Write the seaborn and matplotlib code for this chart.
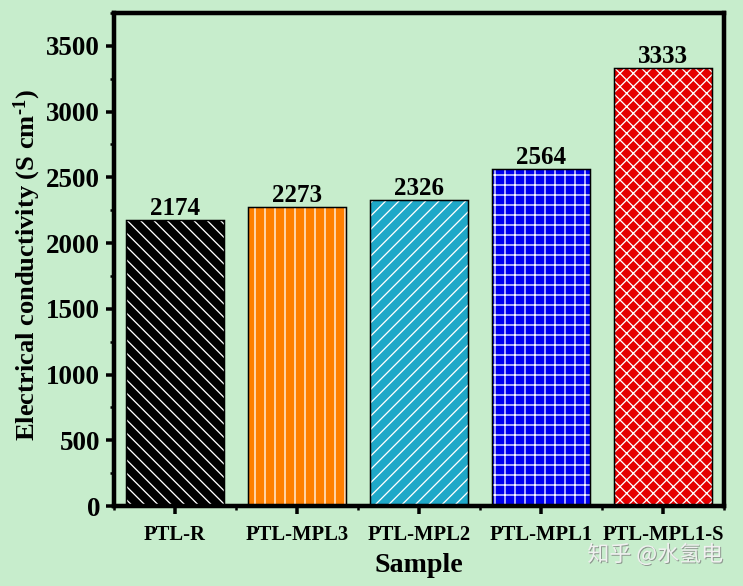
import matplotlib
matplotlib.use('Agg')
import matplotlib.pyplot as plt
import matplotlib.ticker as mticker
import matplotlib.patheffects as pe
import seaborn as sns
import pandas as pd

samples = ['PTL-R', 'PTL-MPL3', 'PTL-MPL2', 'PTL-MPL1', 'PTL-MPL1-S']
conductivity = [2174, 2273, 2326, 2564, 3333]
bar_colors = ['#000000', '#FF8000', '#1FA8C8', '#0000F0', '#E60000']
hatches = ['\\' * 6, '||||', '/' * 6, '++++', 'x' * 6]

BG = '#C7EDCC'
# hatch 간격이 dpi 기준이라 이 값으로 맞춤
DPI = 240
PX = 72 / DPI

sns.set_theme(style='ticks')
plt.rcParams['font.family'] = ['Liberation Serif', 'Noto Sans CJK SC']
plt.rcParams['font.weight'] = 'bold'
plt.rcParams['mathtext.fontset'] = 'custom'
plt.rcParams['mathtext.rm'] = 'Liberation Serif:bold'
plt.rcParams['mathtext.bf'] = 'Liberation Serif:bold'
plt.rcParams['mathtext.default'] = 'bf'
plt.rcParams['hatch.linewidth'] = 1.3 * PX

df = pd.DataFrame({'sample': samples, 'value': conductivity})

fig = plt.figure(figsize=(743 / DPI, 586 / DPI), dpi=DPI, facecolor=BG)
ax = fig.add_axes([114 / 743, 1 - 506 / 586, 610 / 743, 493 / 586], facecolor=BG)

# 채움 + 흰색 hatch
sns.barplot(data=df, x='sample', y='value', hue='sample', palette=bar_colors, saturation=1,
            width=0.81, edgecolor='white', linewidth=0, legend=False, ax=ax)
for bars, h in zip(ax.containers, hatches):
    for bar in bars:
        bar.set_hatch(h)

# 검은 테두리
n_fill = len(ax.containers)
sns.barplot(data=df, x='sample', y='value', hue='sample', fill=False, palette=['black'] * 5,
            saturation=1, width=0.81, linewidth=1.5 * PX, legend=False, ax=ax)
for bars, val in zip(ax.containers[n_fill:], conductivity):
    ax.bar_label(bars, labels=[str(val)], padding=0, fontsize=25 * PX,
                 fontweight='bold', color='black')

ax.set_xlim(-0.5, 4.5)
ax.set_ylim(0, 3750)
ax.yaxis.set_major_locator(mticker.MultipleLocator(500))
ax.yaxis.set_minor_locator(mticker.MultipleLocator(250))
ax.xaxis.set_minor_locator(mticker.FixedLocator([-0.5, 0.5, 1.5, 2.5, 3.5, 4.5]))

for s in ax.spines.values():
    s.set_linewidth(4.5 * PX)
    s.set_visible(True)
    s.set_color('black')
ax.tick_params(axis='both', which='major', direction='out', length=8 * PX, width=3.5 * PX, color='black')
ax.tick_params(axis='both', which='minor', direction='out', length=4 * PX, width=2.5 * PX, color='black')
ax.tick_params(axis='y', which='major', labelsize=27 * PX, pad=6 * PX, labelcolor='black')
ax.tick_params(axis='x', which='major', labelsize=20.7 * PX, pad=11 * PX, labelcolor='black')

ax.set_xlabel('Sample', fontsize=28 * PX, fontweight='bold', color='black', va='center')
ax.xaxis.set_label_coords(0.5, -60 / 493)
ax.set_ylabel('Electrical conductivity (S cm$^{\\text{-1}}$)', fontsize=26.5 * PX, fontweight='bold',
              color='black', va='center')
ax.yaxis.set_label_coords(-87 / 610, (506 - 265) / 493)

# 워터마크
fig.text(723 / 743, 1 - 555 / 586, '知乎 @水氢电', ha='right', va='center', fontsize=22 * PX,
         color='#F0F0F0', family=['Noto Sans CJK SC', 'DejaVu Sans'], fontweight='normal',
         path_effects=[pe.withSimplePatchShadow(offset=(1 * PX, -1 * PX), shadow_rgbFace='#777777', alpha=0.7)])

plt.savefig('out.png', dpi=DPI, facecolor=BG)
plt.close()
